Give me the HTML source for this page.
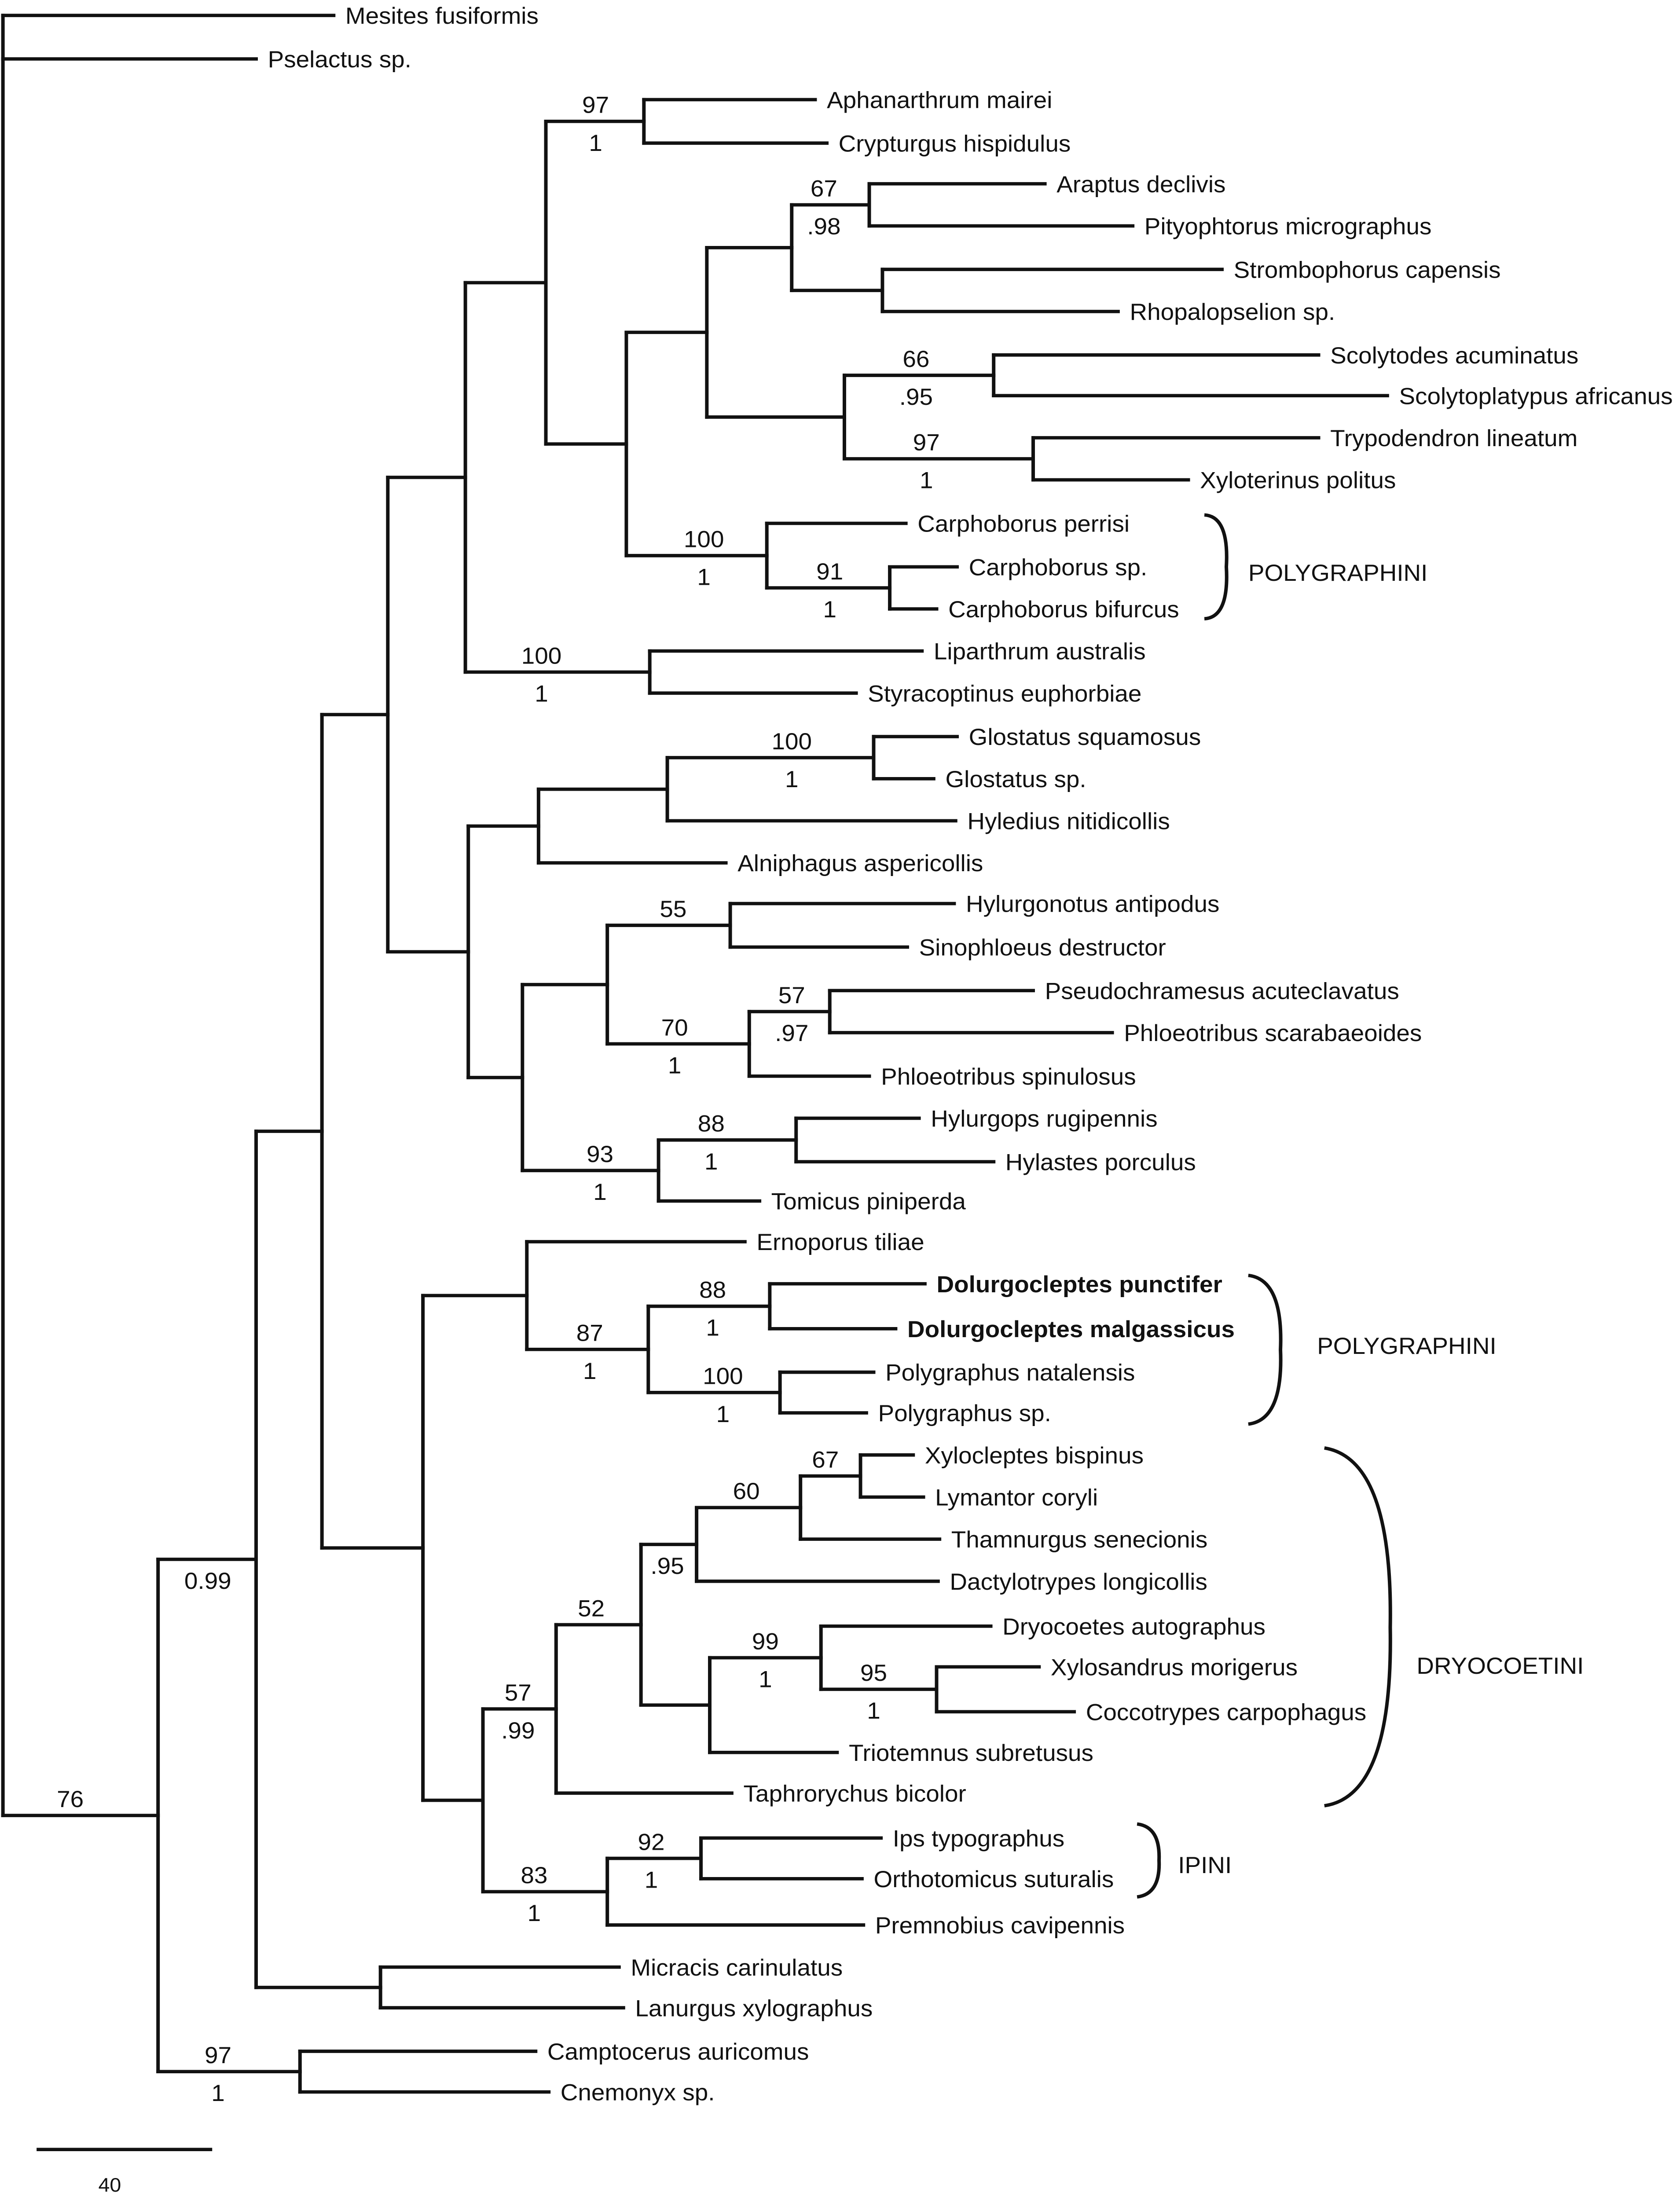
<!DOCTYPE html>
<html><head><meta charset="utf-8">
<style>
html,body{margin:0;padding:0;background:#fff;width:100%;height:100%;overflow:hidden;}
svg{display:block;position:fixed;left:0;top:0;width:100vw;height:100vh;}
text{font-family:"Liberation Sans",Arial,sans-serif;font-size:16.5px;fill:#111;}
</style></head>
<body>
<svg id="tree" viewBox="0 0 1148 1568" preserveAspectRatio="none" xmlns="http://www.w3.org/2000/svg">
<g id="branches" stroke="#111" stroke-width="2.4" fill="none" stroke-linecap="square"></g>
<g id="labels"></g>
<g>
<line x1="25" y1="1532" x2="145" y2="1532" stroke="#111" stroke-width="2.4"/>
<text x="75" y="1562" text-anchor="middle" style="font-size:14px">40</text>
</g>
<g stroke="#111" stroke-width="2.4" fill="none">
<path d="M823 367 Q840 368 838 404 Q840 440 823 441"/>
<path d="M853 909 Q877 912 875 962 Q877 1012 853 1015"/>
<path d="M905 1032 Q952 1040 950 1160 Q952 1280 905 1287"/>
<path d="M777 1300 Q793 1302 792 1326 Q793 1350 777 1352"/>
</g>
<text x="853" y="414">POLYGRAPHINI</text>
<text x="900" y="965">POLYGRAPHINI</text>
<text x="968" y="1193">DRYOCOETINI</text>
<text x="805" y="1335">IPINI</text>
</svg>
<script>
// internal nodes: [id, parent, x, supportAbove, supportBelow, labelX]
const nodes = [
["root",null,2,"","",0],
["A","root",108,"76","",48],
["B","A",175,"","0.99",142],
["C","B",220,"","",0],
["D","C",265,"","",0],
["F","D",318,"","",0],
["H","F",373,"","",0],
["aph","H",440,"97","1",407],
["I","H",428,"","",0],
["J","I",483,"","",0],
["L","J",541,"","",0],
["arap","L",594,"67",".98",563],
["strom","L",603,"","",0],
["M","J",577,"","",0],
["scoly","M",679,"66",".95",626],
["trypo","M",706,"97","1",633],
["K","I",524,"100","1",481],
["N","K",608,"91","1",567],
["lip","F",444,"100","1",370],
["G","D",320,"","",0],
["O","G",368,"","",0],
["Q","O",456,"","",0],
["R","Q",597,"100","1",541],
["P","G",357,"","",0],
["S","P",415,"","",0],
["U","S",499,"55","",460],
["V","S",512,"70","1",461],
["W","V",567,"57",".97",541],
["T","P",450,"93","1",410],
["X","T",544,"88","1",486],
["E","C",289,"","",0],
["Y","E",360,"","",0],
["AA","Y",443,"87","1",403],
["BB","AA",526,"88","1",487],
["CC","AA",533,"100","1",494],
["Z","E",330,"","",0],
["DD","Z",380,"57",".99",354],
["FF","DD",438,"52","",404],
["GG","FF",476,"",".95",456],
["II","GG",547,"60","",510],
["JJ","II",588,"67","",564],
["HH","FF",485,"","",0],
["KK","HH",561,"99","1",523],
["LL","KK",640,"95","1",597],
["EE","Z",415,"83","1",365],
["MM","EE",479,"92","1",445],
["mic","B",260,"","",0],
["camp","A",205,"97","1",149]
];
// leaves: [name, parent, tipX, y, bold]
const leaves = [
["Mesites fusiformis","root",228,11,0],
["Pselactus sp.","root",175,42,0],
["Aphanarthrum mairei","aph",557,71,0],
["Crypturgus hispidulus","aph",565,102,0],
["Araptus declivis","arap",714,131,0],
["Pityophtorus micrographus","arap",774,161,0],
["Strombophorus capensis","strom",835,192,0],
["Rhopalopselion sp.","strom",764,222,0],
["Scolytodes acuminatus","scoly",901,253,0],
["Scolytoplatypus africanus","scoly",948,282,0],
["Trypodendron lineatum","trypo",901,312,0],
["Xyloterinus politus","trypo",812,342,0],
["Carphoborus perrisi","K",619,373,0],
["Carphoborus sp.","N",654,404,0],
["Carphoborus bifurcus","N",640,434,0],
["Liparthrum australis","lip",630,464,0],
["Styracoptinus euphorbiae","lip",585,494,0],
["Glostatus squamosus","R",654,525,0],
["Glostatus sp.","R",638,555,0],
["Hyledius nitidicollis","Q",653,585,0],
["Alniphagus aspericollis","O",496,615,0],
["Hylurgonotus antipodus","U",652,644,0],
["Sinophloeus destructor","U",620,675,0],
["Pseudochramesus acuteclavatus","W",706,706,0],
["Phloeotribus scarabaeoides","W",760,736,0],
["Phloeotribus spinulosus","V",594,767,0],
["Hylurgops rugipennis","X",628,797,0],
["Hylastes porculus","X",679,828,0],
["Tomicus piniperda","T",519,856,0],
["Ernoporus tiliae","Y",509,885,0],
["Dolurgocleptes punctifer","BB",632,915,1],
["Dolurgocleptes malgassicus","BB",612,947,1],
["Polygraphus natalensis","CC",597,978,0],
["Polygraphus sp.","CC",592,1007,0],
["Xylocleptes bispinus","JJ",624,1037,0],
["Lymantor coryli","JJ",631,1067,0],
["Thamnurgus senecionis","II",642,1097,0],
["Dactylotrypes longicollis","GG",641,1127,0],
["Dryocoetes autographus","KK",677,1159,0],
["Xylosandrus morigerus","LL",710,1188,0],
["Coccotrypes carpophagus","LL",734,1220,0],
["Triotemnus subretusus","HH",572,1249,0],
["Taphrorychus bicolor","DD",500,1278,0],
["Ips typographus","MM",602,1310,0],
["Orthotomicus suturalis","MM",589,1339,0],
["Premnobius cavipennis","EE",590,1372,0],
["Micracis carinulatus","mic",423,1402,0],
["Lanurgus xylographus","mic",426,1431,0],
["Camptocerus auricomus","camp",366,1462,0],
["Cnemonyx sp.","camp",375,1491,0]
];
const NS="http://www.w3.org/2000/svg";
const gB=document.getElementById('branches'), gL=document.getElementById('labels');
const info={};
nodes.forEach(n=>{info[n[0]]={x:n[2],parent:n[1],kids:[],n:n};});
leaves.forEach(l=>{info[l[1]].kids.push({x:l[2],y:l[3],leaf:l});});
function yOf(id){
  const nd=info[id];
  if(nd.y!==undefined) return nd.y;
  nodes.forEach(m=>{ if(m[1]===id) nd.kids.push({id:m[0],x:m[2]}); });
  nd.kids.forEach(k=>{ if(k.id) k.y=yOf(k.id); });
  const ys=nd.kids.map(k=>k.y);
  nd.min=Math.min(...ys); nd.max=Math.max(...ys);
  nd.y=(nd.min+nd.max)/2;
  return nd.y;
}
yOf('root');
function line(x1,y1,x2,y2,name){
  const l=document.createElementNS(NS,'line');
  l.setAttribute('x1',x1);l.setAttribute('y1',y1);l.setAttribute('x2',x2);l.setAttribute('y2',y2);
  
  
  gB.appendChild(l);
}
function txt(x,y,s,anchor,bold,name){
  const t=document.createElementNS(NS,'text');
  t.setAttribute('x',x);t.setAttribute('y',y);
  if(anchor) t.setAttribute('text-anchor',anchor);
  if(bold) t.setAttribute('font-weight','bold');
  t.textContent=s;
  
  
  gL.appendChild(t);
}
Object.keys(info).forEach(id=>{
  const nd=info[id];
  line(nd.x,nd.min,nd.x,nd.max,'node-'+id+'-vertical');
  nd.kids.forEach(k=>{
    line(nd.x,k.y,k.x,k.y,'branch-'+(k.id||k.leaf[0].replace(/[^a-z]+/gi,'-').toLowerCase()));
  });
  if(nd.parent){
    const n=nd.n;
    if(n[3]) txt(n[5],nd.y-6,n[3],'middle',0,'support-above-'+id);
    if(n[4]) txt(n[5],nd.y+21,n[4],'middle',0,'support-below-'+id);
  }
});
leaves.forEach(l=>{
  txt(l[2]+8,l[3]+6,l[0],'start',l[4],'taxon-'+l[0].replace(/[^a-z]+/gi,'-').toLowerCase());
});
</script>
</body></html>
